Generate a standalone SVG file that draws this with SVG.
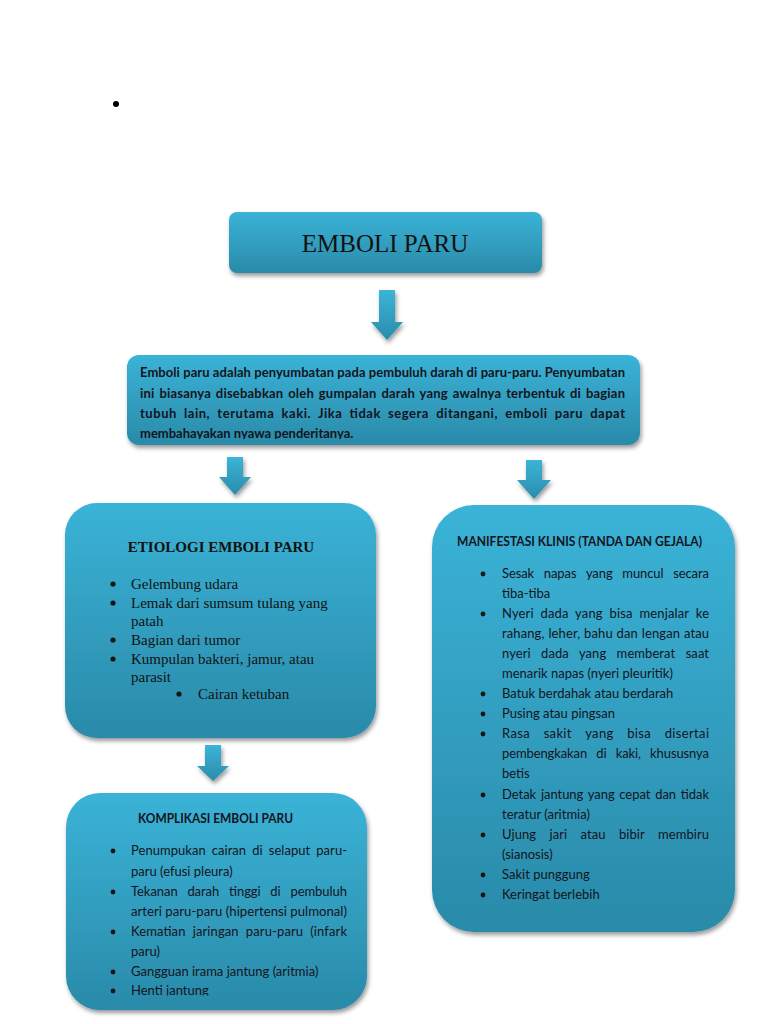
<svg xmlns="http://www.w3.org/2000/svg" width="768" height="1024" viewBox="0 0 768 1024">
<defs>
<linearGradient id="gBox" x1="0" y1="0" x2="0" y2="1">
<stop offset="0" stop-color="#3ab3d7"/>
<stop offset="1" stop-color="#2a8aa9"/>
</linearGradient>
<linearGradient id="gArrow" x1="0" y1="0" x2="0" y2="1">
<stop offset="0" stop-color="#3bb4d8"/>
<stop offset="1" stop-color="#2a8cac"/>
</linearGradient>
<filter id="shadow" x="-10%" y="-10%" width="125%" height="130%">
<feDropShadow dx="1.5" dy="3" stdDeviation="2.2" flood-color="#000" flood-opacity="0.4"/>
</filter>
<clipPath id="clipDef"><rect x="120" y="350" width="530" height="89"/></clipPath>
<clipPath id="clipKomp"><rect x="60" y="790" width="320" height="205.5"/></clipPath>
</defs>
<style>
.box{fill:url(#gBox);filter:url(#shadow)}
.arrow{fill:url(#gArrow);filter:url(#shadow)}
.serif{font-family:"Liberation Serif","Times New Roman",serif;fill:#121212}
.sans{font-family:Lato,"Noto Sans",sans-serif;fill:#141420}
.b{font-weight:bold}
.dot{fill:#141414}
</style>
<rect width="768" height="1024" fill="#ffffff"/>
<circle cx="116" cy="104" r="3" fill="#000"/>

<g id="connectors">
<path class="arrow" d="M379,290 H395 V322 H403 L387,340 L371,322 H379 Z"/>
<path class="arrow" d="M227,457 H243 V477 H251 L235,495 L219,477 H227 Z"/>
<path class="arrow" d="M526,460 H542 V480 H551 L534,499 L517,480 H526 Z"/>
<path class="arrow" d="M205,745 H221 V766 H229 L213,781 L197,766 H205 Z"/>
</g>

<g id="node-title">
<rect class="box" x="229" y="212" width="313" height="61" rx="8"/>
<text class="serif" x="385" y="252" font-size="25" text-anchor="middle">EMBOLI PARU</text>
</g>

<g id="node-definition">
<rect class="box" x="127" y="355" width="513" height="90" rx="12"/>
<g clip-path="url(#clipDef)" class="sans b" font-size="13">
<text x="140" y="377" textLength="485" lengthAdjust="spacing">Emboli paru adalah penyumbatan pada pembuluh darah di paru-paru. Penyumbatan</text>
<text x="140" y="398" word-spacing="1.5" textLength="485" lengthAdjust="spacing">ini biasanya disebabkan oleh gumpalan darah yang awalnya terbentuk di bagian</text>
<text x="140" y="418" word-spacing="3.5" textLength="485" lengthAdjust="spacing">tubuh lain, terutama kaki. Jika tidak segera ditangani, emboli paru dapat</text>
<text x="140" y="438">membahayakan nyawa penderitanya.</text>
</g>
</g>

<g id="node-etiologi">
<rect class="box" x="65" y="503" width="311" height="235" rx="32"/>
<text class="serif b" x="221" y="552" font-size="15" text-anchor="middle">ETIOLOGI EMBOLI PARU</text>
<g class="serif" font-size="15">
<circle class="dot" cx="113" cy="584" r="2.6"/>
<text x="131" y="589">Gelembung udara</text>
<circle class="dot" cx="113" cy="603" r="2.6"/>
<text x="131" y="608">Lemak dari sumsum tulang yang</text>
<text x="131" y="626">patah</text>
<circle class="dot" cx="113" cy="640" r="2.6"/>
<text x="131" y="645">Bagian dari tumor</text>
<circle class="dot" cx="113" cy="659" r="2.6"/>
<text x="131" y="664">Kumpulan bakteri, jamur, atau</text>
<text x="131" y="682">parasit</text>
<circle class="dot" cx="179" cy="694" r="2.6"/>
<text x="198" y="699">Cairan ketuban</text>
</g>
</g>

<g id="node-manifestasi">
<rect class="box" x="432" y="505" width="303" height="427" rx="42"/>
<text class="sans b" x="457" y="546" font-size="12.5" textLength="245" lengthAdjust="spacingAndGlyphs">MANIFESTASI KLINIS (TANDA DAN GEJALA)</text>
<g class="sans" font-size="13">
<circle class="dot" cx="483" cy="574" r="2.4"/>
<text x="502" y="578" word-spacing="6.5" textLength="207" lengthAdjust="spacing">Sesak napas yang muncul secara</text>
<text x="502" y="598">tiba-tiba</text>
<circle class="dot" cx="483" cy="614" r="2.4"/>
<text x="502" y="618" word-spacing="3.4" textLength="207" lengthAdjust="spacing">Nyeri dada yang bisa menjalar ke</text>
<text x="502" y="638" word-spacing="0.4" textLength="207" lengthAdjust="spacing">rahang, leher, bahu dan lengan atau</text>
<text x="502" y="658" word-spacing="7" textLength="207" lengthAdjust="spacing">nyeri dada yang memberat saat</text>
<text x="502" y="678">menarik napas (nyeri pleuritik)</text>
<circle class="dot" cx="483" cy="694" r="2.4"/>
<text x="502" y="698">Batuk berdahak atau berdarah</text>
<circle class="dot" cx="483" cy="714" r="2.4"/>
<text x="502" y="718">Pusing atau pingsan</text>
<circle class="dot" cx="483" cy="734" r="2.4"/>
<text x="502" y="738" word-spacing="10" textLength="207" lengthAdjust="spacing">Rasa sakit yang bisa disertai</text>
<text x="502" y="758" word-spacing="6" textLength="207" lengthAdjust="spacing">pembengkakan di kaki, khususnya</text>
<text x="502" y="778">betis</text>
<circle class="dot" cx="483" cy="795" r="2.4"/>
<text x="502" y="799" word-spacing="1.4" textLength="207" lengthAdjust="spacing">Detak jantung yang cepat dan tidak</text>
<text x="502" y="819">teratur (aritmia)</text>
<circle class="dot" cx="483" cy="835" r="2.4"/>
<text x="502" y="839" word-spacing="10" textLength="207" lengthAdjust="spacing">Ujung jari atau bibir membiru</text>
<text x="502" y="859">(sianosis)</text>
<circle class="dot" cx="483" cy="875" r="2.4"/>
<text x="502" y="879">Sakit punggung</text>
<circle class="dot" cx="483" cy="895" r="2.4"/>
<text x="502" y="899">Keringat berlebih</text>
</g>
</g>

<g id="node-komplikasi">
<rect class="box" x="66" y="793" width="301" height="217" rx="34"/>
<text class="sans b" x="138" y="823" font-size="12.5" textLength="155" lengthAdjust="spacingAndGlyphs">KOMPLIKASI EMBOLI PARU</text>
<g clip-path="url(#clipKomp)" class="sans" font-size="13">
<circle class="dot" cx="113" cy="851" r="2.4"/>
<text x="131" y="855" word-spacing="2.7" textLength="216" lengthAdjust="spacing">Penumpukan cairan di selaput paru-</text>
<text x="131" y="876">paru (efusi pleura)</text>
<circle class="dot" cx="113" cy="892" r="2.4"/>
<text x="131" y="896" word-spacing="6.5" textLength="216" lengthAdjust="spacing">Tekanan darah tinggi di pembuluh</text>
<text x="131" y="916" textLength="216" lengthAdjust="spacingAndGlyphs">arteri paru-paru (hipertensi pulmonal)</text>
<circle class="dot" cx="113" cy="932" r="2.4"/>
<text x="131" y="936" word-spacing="3.7" textLength="216" lengthAdjust="spacing">Kematian jaringan paru-paru (infark</text>
<text x="131" y="956">paru)</text>
<circle class="dot" cx="113" cy="972" r="2.4"/>
<text x="131" y="976">Gangguan irama jantung (aritmia)</text>
<circle class="dot" cx="113" cy="991" r="2.4"/>
<text x="131" y="995">Henti jantung</text>
</g>
</g>
</svg>
